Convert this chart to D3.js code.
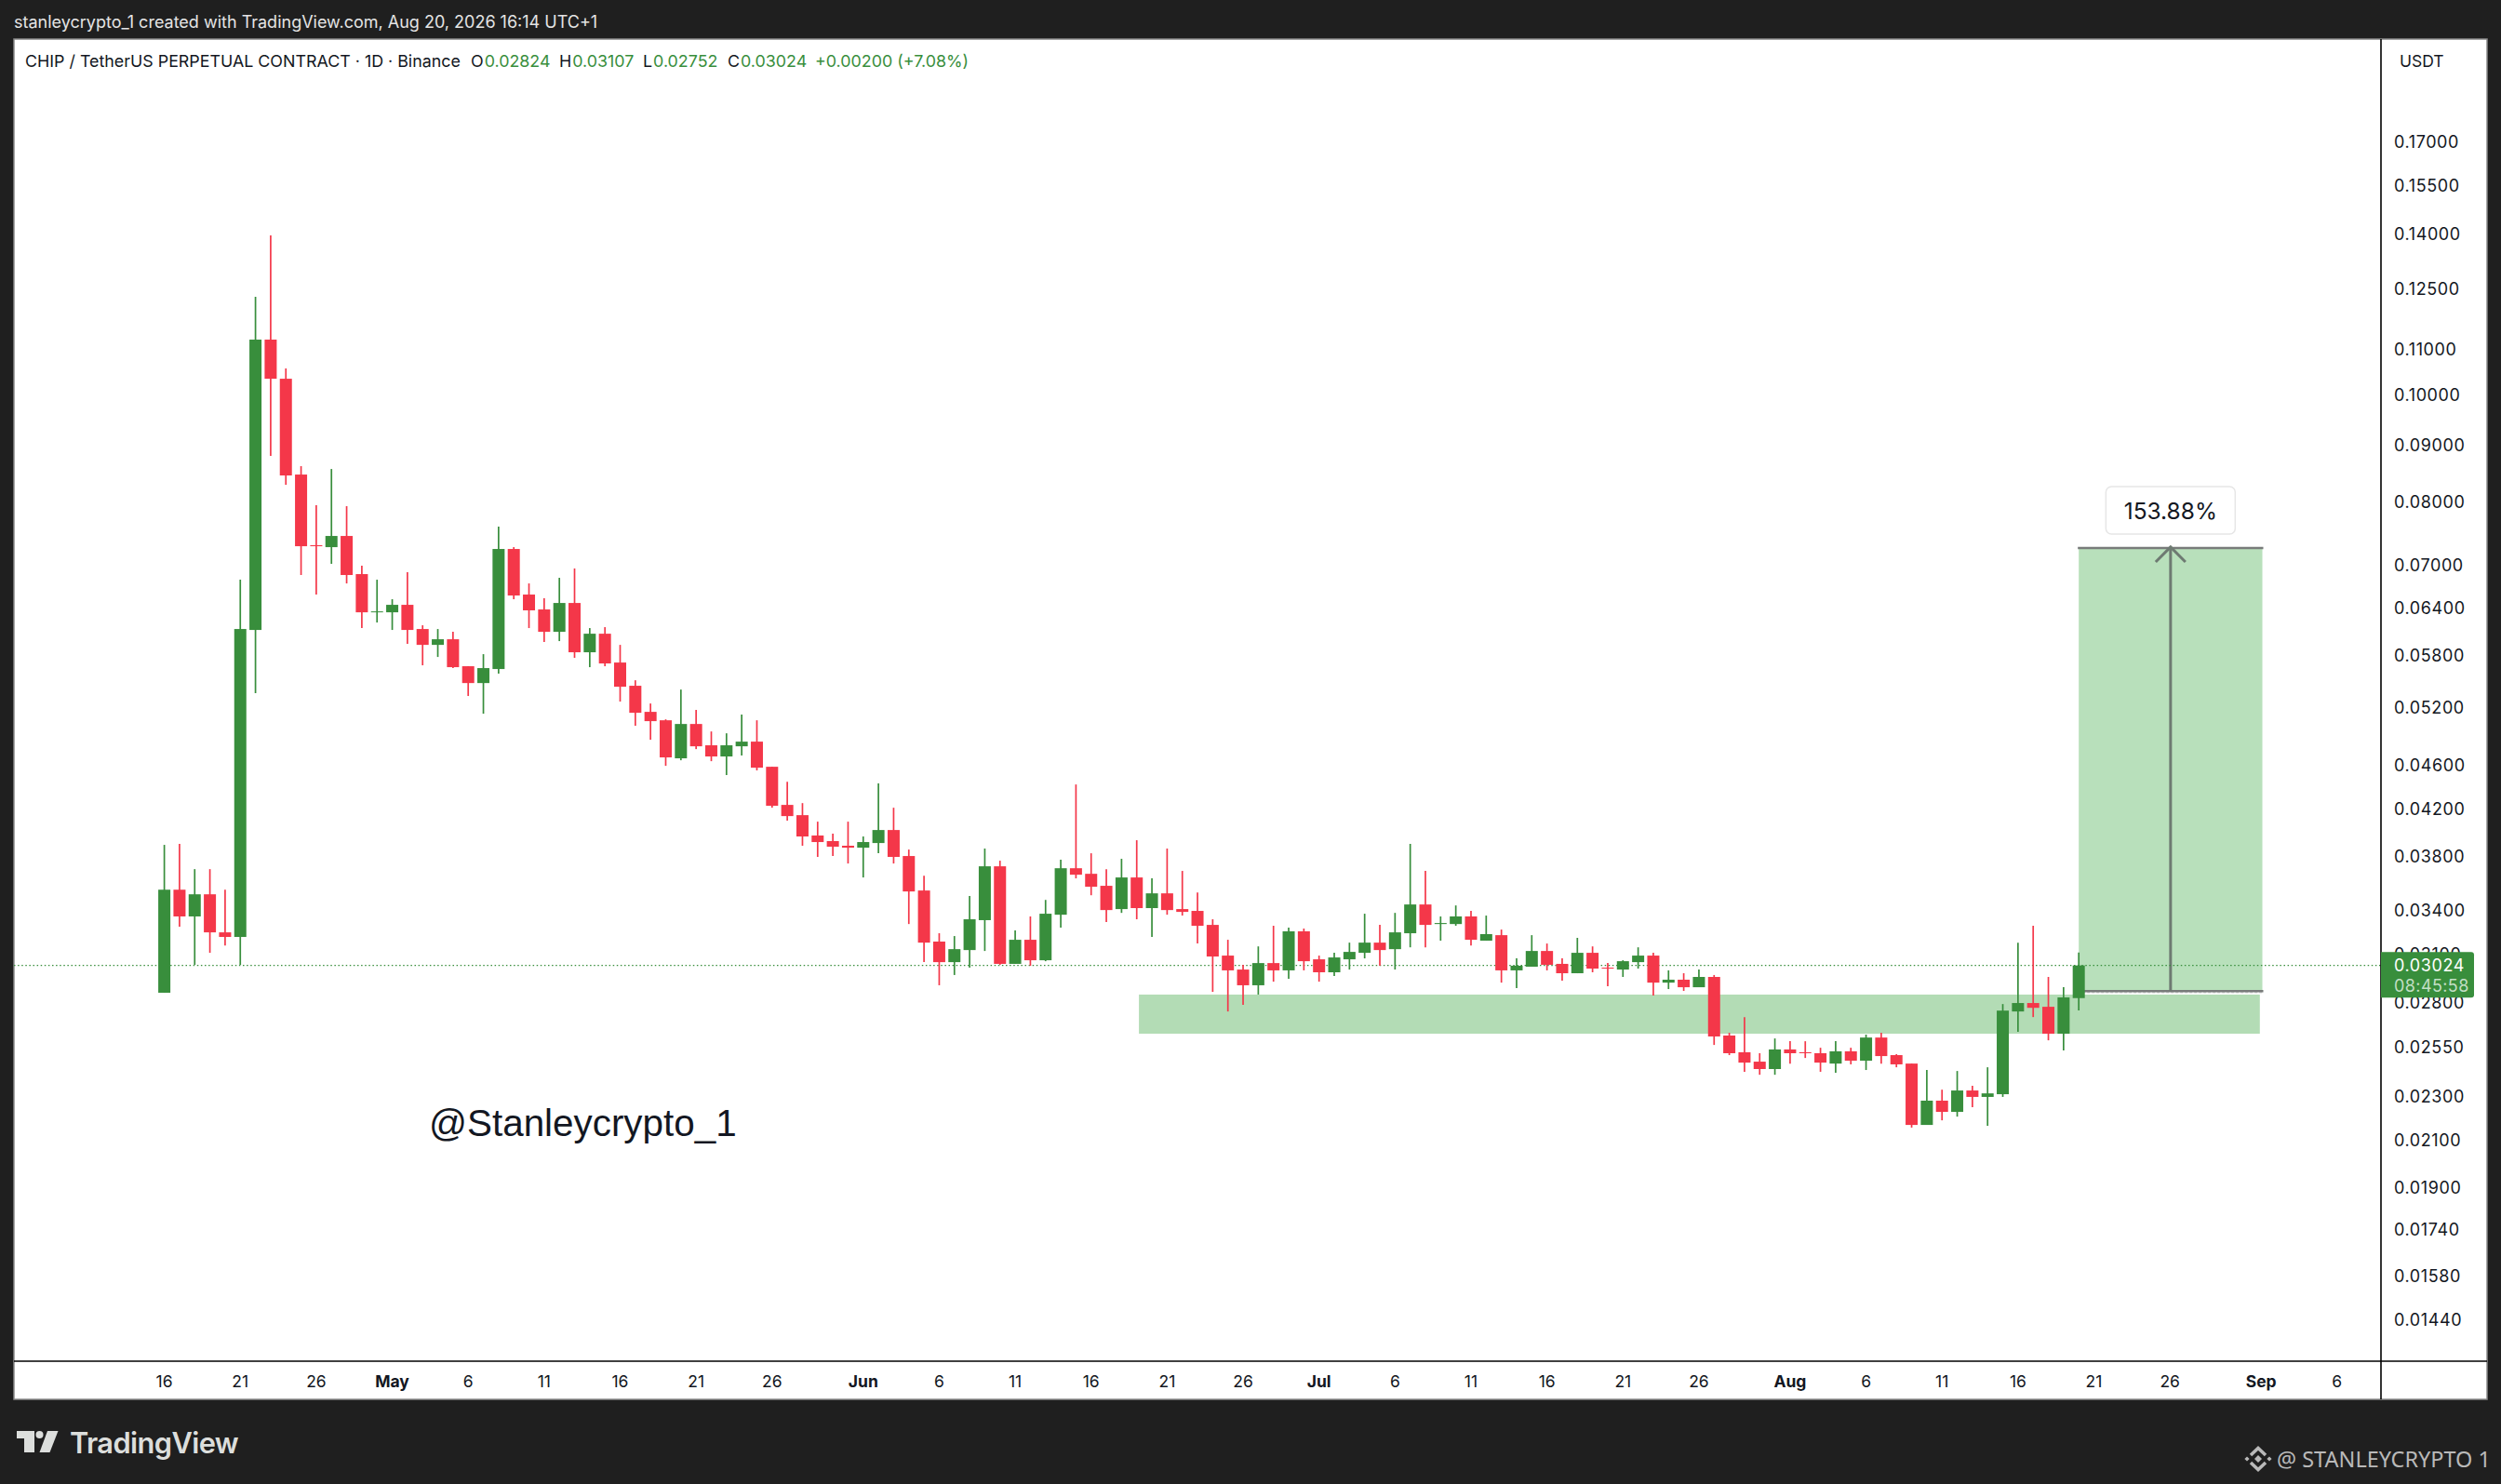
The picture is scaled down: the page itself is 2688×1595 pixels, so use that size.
<!DOCTYPE html>
<html>
<head>
<meta charset="utf-8">
<title>CHIP / TetherUS 1D</title>
<script src="https://d3js.org/d3.v7.min.js"></script>
<style>
  html, body { margin: 0; padding: 0; background: #1f1f1f; }
  svg { display: block; }
</style>
</head>
<body>
<script>
// daily candles, first one is 16 Apr 2026
var firstDay = "2026-04-16";

var opens = [
  .02856,.03544,.03351,.03510,.03241,.03210,.06107,.11220,.10337,.08457,
  .07293,.07264,.07436,.06865,.06337,.06337,.06437,.06119,.05919,.05989,
  .05660,.05464,.05627,.07236,.06577,.06375,.06083,.06462,.05828,.06059,
  .05704,.05433,.05144,.05054,.04667,.05015,.04796,.04685,.04786,.04833,
  .04585,.04233,.04143,.03970,.03924,.03886,.03870,.03908,.04016,.03803,
  .03538,.03179,.03045,.03123,.03325,.03722,.03034,.03191,.03057,.03363,
  .03707,.03664,.03573,.03403,.03636,.03410,.03517,.03403,.03390,.03292,
  .03087,.02998,.02901,.03039,.02993,.03248,.03063,.02981,.03063,.03105,
  .03172,.03129,.03235,.03436,.03298,.03298,.03351,.03185,.03222,.02993,
  .03016,.03117,.03034,.02975,.03105,.03010,.02998,.03045,.03087,.02917,
  .02935,.02889,.02952,.02611,.02521,.02472,.02434,.02536,.02521,.02516,
  .02462,.02526,.02477,.02600,.02506,.02462,.02165,.02278,.02225,.02327,
  .02296,.02309,.02746,.02795,.02773,.02621,.02824];

var highs = [
  .03893,.03901,.03700,.03700,.03544,.06785,.12272,.13957,.10562,.08607,
  .07930,.08556,.07915,.06986,.06785,.06513,.06892,.06167,.06119,.06083,
  .05660,.05805,.07582,.07264,.06732,.06526,.06812,.06946,.06131,.06143,
  .05919,.05496,.05235,.05064,.05390,.05165,.04937,.04918,.05114,.05054,
  .04585,.04444,.04249,.04087,.03985,.04087,.03962,.04427,.04208,.03855,
  .03650,.03235,.03216,.03497,.03863,.03766,.03254,.03351,.03469,.03773,
  .04418,.03825,.03700,.03781,.03931,.03629,.03863,.03686,.03524,.03331,
  .03191,.03028,.03147,.03286,.03273,.03267,.03087,.03105,.03172,.03370,
  .03292,.03376,.03901,.03686,.03351,.03429,.03390,.03357,.03260,.03069,
  .03222,.03166,.03069,.03204,.03147,.03039,.03057,.03141,.03105,.02993,
  .02975,.02998,.02964,.02626,.02714,.02516,.02595,.02580,.02580,.02545,
  .02580,.02545,.02616,.02626,.02511,.02462,.02429,.02331,.02424,.02350,
  .02443,.02789,.03172,.03286,.02952,.02889,.03107];

var lows = [
  .02856,.03280,.03028,.03105,.03153,.03028,.05349,.08793,.08277,.06852,
  .06577,.07014,.06732,.06131,.06203,.06107,.05931,.05671,.05771,.05638,
  .05318,.05124,.05572,.06513,.06131,.05954,.05966,.05760,.05649,.05660,
  .05256,.04996,.04852,.04594,.04648,.04758,.04639,.04506,.04694,.04550,
  .04208,.04095,.03886,.03796,.03803,.03744,.03636,.03825,.03744,.03298,
  .03045,.02901,.02964,.03010,.03117,.03028,.03034,.03022,.03051,.03273,
  .03629,.03503,.03312,.03376,.03331,.03210,.03363,.03357,.03166,.02861,
  .02746,.02784,.02845,.02923,.02940,.02993,.02923,.02958,.02998,.03069,
  .03022,.02998,.03141,.03141,.03185,.03286,.03153,.03185,.02917,.02884,
  .03016,.02993,.02929,.02975,.02981,.02895,.02952,.03004,.02839,.02878,
  .02867,.02889,.02560,.02506,.02420,.02405,.02405,.02462,.02491,.02420,
  .02415,.02458,.02429,.02462,.02443,.02153,.02165,.02186,.02203,.02247,
  .02161,.02296,.02631,.02714,.02585,.02531,.02752];

var closes = [
  .03544,.03351,.03510,.03241,.03210,.06119,.11220,.10337,.08441,.07278,
  .07278,.07436,.06852,.06337,.06349,.06437,.06107,.05919,.05989,.05649,
  .05464,.05638,.07236,.06564,.06363,.06083,.06462,.05828,.06059,.05693,
  .05422,.05134,.05045,.04676,.05015,.04786,.04685,.04796,.04833,.04576,
  .04225,.04135,.03962,.03916,.03878,.03870,.03916,.04016,.03796,.03531,
  .03172,.03045,.03129,.03331,.03722,.03034,.03191,.03057,.03370,.03707,
  .03657,.03566,.03396,.03636,.03410,.03517,.03396,.03383,.03286,.03081,
  .02993,.02901,.03039,.02993,.03248,.03051,.02981,.03075,.03111,.03172,
  .03123,.03241,.03436,.03292,.03305,.03351,.03191,.03229,.02993,.03022,
  .03117,.03028,.02975,.03105,.03004,.03004,.03051,.03087,.02917,.02935,
  .02889,.02952,.02606,.02516,.02467,.02434,.02536,.02516,.02516,.02467,
  .02526,.02477,.02600,.02501,.02458,.02165,.02278,.02225,.02327,.02296,
  .02313,.02751,.02795,.02767,.02621,.02828,.03024];

var priceTicks = ["0.17000","0.15500","0.14000","0.12500","0.11000","0.10000","0.09000","0.08000",
  "0.07000","0.06400","0.05800","0.05200","0.04600","0.04200","0.03800","0.03400","0.03100",
  "0.02800","0.02550","0.02300","0.02100","0.01900","0.01740","0.01580","0.01440"];

var dateTicks = ["2026-04-16","2026-04-21","2026-04-26","2026-05-01","2026-05-06","2026-05-11",
  "2026-05-16","2026-05-21","2026-05-26","2026-06-01","2026-06-06","2026-06-11","2026-06-16",
  "2026-06-21","2026-06-26","2026-07-01","2026-07-06","2026-07-11","2026-07-16","2026-07-21",
  "2026-07-26","2026-08-01","2026-08-06","2026-08-11","2026-08-16","2026-08-21","2026-08-26",
  "2026-09-01","2026-09-06"];

// the two drawings on the chart
var zoneDates = ["2026-06-19T03:30:00Z", "2026-08-31T22:00:00Z"];
var zonePrices = [0.02845, 0.02621];
var moveDates = ["2026-08-20T00:00:00Z", "2026-09-01T02:00:00Z"];
var movePrices = [0.02866, 0.07251];
var moveLabel = "153.88%";

var lastPrice = "0.03024", countdown = "08:45:58";
var headerText = "stanleycrypto_1 created with TradingView.com, Aug 20, 2026 16:14 UTC+1";
var titleText = "CHIP / TetherUS PERPETUAL CONTRACT · 1D · Binance";
var ohlcLetters = ["O", "H", "L", "C"];
var ohlcValues = ["0.02824", "0.03107", "0.02752", "0.03024"];
var changeText = "+0.00200 (+7.08%)";

var width = 2688, height = 1595;
var paneLeft = 15, paneRight = 2559, panelRight = 2673, paneTop = 42, paneBottom = 1463, panelBottom = 1504;
var green = "#388e3c", red = "#f43749", ink = "#131722";
var bodyWidth = 13;

var svg = d3.select("body").append("svg")
  .attr("width", width)
  .attr("height", height)
  .attr("font-family", "Inter, 'Noto Sans', sans-serif");

var x = d3.scaleUtc()
  .domain([new Date("2026-04-16"), new Date("2026-09-06")])
  .range([176.6, 2511.8]);

var y = d3.scaleLog()
  .domain([0.21059, 0.013198])
  .range([paneTop, paneBottom]);

var candles = opens.map(function(o, i) {
  return {
    date: d3.utcDay.offset(new Date(firstDay), i),
    open: o, high: highs[i], low: lows[i], close: closes[i]
  };
});

// panel
svg.append("rect")
  .attr("x", paneLeft).attr("y", paneTop)
  .attr("width", panelRight - paneLeft).attr("height", panelBottom - paneTop)
  .attr("fill", "#fff")
  .attr("stroke", "#8a8a8a").attr("stroke-width", 1.5);

// drawings, below the candles
svg.append("rect")
  .attr("x", x(new Date(moveDates[0]))).attr("y", y(movePrices[1]))
  .attr("width", x(new Date(moveDates[1])) - x(new Date(moveDates[0])))
  .attr("height", y(movePrices[0]) - y(movePrices[1]))
  .attr("fill", "#b8e0bb");

svg.append("rect")
  .attr("x", x(new Date(zoneDates[0]))).attr("y", y(zonePrices[0]))
  .attr("width", x(new Date(zoneDates[1])) - x(new Date(zoneDates[0])))
  .attr("height", y(zonePrices[1]) - y(zonePrices[0]))
  .attr("fill", "#b3dcb5");

var moveLeft = x(new Date(moveDates[0])) - 1, moveRight = x(new Date(moveDates[1])) + 1;
var moveMid = (moveLeft + moveRight) / 2;

movePrices.forEach(function(p) {
  svg.append("line")
    .attr("x1", moveLeft).attr("x2", moveRight)
    .attr("y1", y(p)).attr("y2", y(p))
    .attr("stroke", "#787b7a").attr("stroke-width", 2.6);
});
svg.append("line")
  .attr("x1", moveLeft).attr("x2", moveRight)
  .attr("y1", y(movePrices[0]) + 1.5).attr("y2", y(movePrices[0]) + 1.5)
  .attr("stroke", "#a4a6a5").attr("stroke-width", 1.2)
  .attr("stroke-dasharray", "3 2");

svg.append("line")
  .attr("x1", moveMid).attr("x2", moveMid)
  .attr("y1", y(movePrices[0])).attr("y2", y(movePrices[1]))
  .attr("stroke", "#6e7a72").attr("stroke-width", 3);
svg.append("path")
  .attr("d", d3.line()([[moveMid - 16, y(movePrices[1]) + 15], [moveMid, y(movePrices[1]) - 1], [moveMid + 16, y(movePrices[1]) + 15]]))
  .attr("fill", "none").attr("stroke", "#6e7a72").attr("stroke-width", 3);

svg.append("rect")
  .attr("x", moveMid - 69.5).attr("y", y(movePrices[1]) - 66)
  .attr("width", 139).attr("height", 51).attr("rx", 6)
  .attr("fill", "#fff")
  .attr("stroke", "#e6e6e6").attr("stroke-width", 1.5);
svg.append("text")
  .attr("x", moveMid).attr("y", y(movePrices[1]) - 40)
  .attr("text-anchor", "middle").attr("dominant-baseline", "central")
  .attr("font-size", 24.5).attr("fill", ink)
  .text(moveLabel);

// last price line
svg.append("line")
  .attr("x1", paneLeft).attr("x2", paneRight)
  .attr("y1", y(+lastPrice)).attr("y2", y(+lastPrice))
  .attr("stroke", green).attr("stroke-width", 1.4)
  .attr("stroke-dasharray", "1.5 2.6");

// candles
var candle = svg.append("g").selectAll("g")
  .data(candles)
  .enter().append("g")
  .attr("fill", function(d) { return d.close >= d.open ? green : red; })
  .attr("stroke", function(d) { return d.close >= d.open ? green : red; });

candle.append("line")
  .attr("x1", function(d) { return x(d.date); })
  .attr("x2", function(d) { return x(d.date); })
  .attr("y1", function(d) { return y(d.high); })
  .attr("y2", function(d) { return y(d.low); })
  .attr("stroke-width", 1.7);

candle.append("rect")
  .attr("x", function(d) { return x(d.date) - bodyWidth / 2; })
  .attr("y", function(d) { return y(Math.max(d.open, d.close)); })
  .attr("width", bodyWidth)
  .attr("height", function(d) { return Math.max(1, Math.abs(y(d.open) - y(d.close))); })
  .attr("stroke", "none");

// axes frame
svg.append("line").attr("x1", paneLeft).attr("x2", panelRight).attr("y1", paneBottom).attr("y2", paneBottom)
  .attr("stroke", "#000").attr("stroke-width", 1.6);
svg.append("line").attr("x1", paneRight).attr("x2", paneRight).attr("y1", paneTop).attr("y2", panelBottom)
  .attr("stroke", "#000").attr("stroke-width", 1.6);

// price axis
svg.append("g").selectAll("text")
  .data(priceTicks)
  .enter().append("text")
  .attr("x", 2573)
  .attr("y", function(d) { return y(+d) + 0.5; })
  .attr("dominant-baseline", "central")
  .attr("font-size", 18).attr("letter-spacing", 0.6).attr("fill", ink)
  .text(function(d) { return d; });

svg.append("text")
  .attr("x", 2579).attr("y", 65)
  .attr("dominant-baseline", "central")
  .attr("font-size", 17.5).attr("fill", ink)
  .text("USDT");

// time axis
var fmtDay = d3.utcFormat("%-d"), fmtMonth = d3.utcFormat("%b");
svg.append("g").selectAll("text")
  .data(dateTicks)
  .enter().append("text")
  .attr("x", function(d) { return x(new Date(d)); })
  .attr("y", 1484.5)
  .attr("text-anchor", "middle").attr("dominant-baseline", "central")
  .attr("font-size", 17.5).attr("fill", ink)
  .attr("font-weight", function(d) { return new Date(d).getUTCDate() == 1 ? 700 : 400; })
  .text(function(d) {
    var dt = new Date(d);
    return dt.getUTCDate() == 1 ? fmtMonth(dt) : fmtDay(dt);
  });

// last price badge
var badgeY = y(+lastPrice);
svg.append("path")
  .attr("d", "M" + paneRight + "," + (badgeY - 14.5) + "h97q3,0 3,3v43q0,3 -3,3h-97z")
  .attr("fill", green);
svg.append("text")
  .attr("x", 2573).attr("y", badgeY)
  .attr("dominant-baseline", "central")
  .attr("font-size", 18).attr("letter-spacing", 0.6).attr("fill", "#fff")
  .text(lastPrice);
svg.append("text")
  .attr("x", 2573).attr("y", badgeY + 21.5)
  .attr("dominant-baseline", "central")
  .attr("font-size", 18).attr("letter-spacing", 0.4).attr("fill", "#c3dfc5")
  .text(countdown);

// header and legend
svg.append("text")
  .attr("x", 15).attr("y", 23.5)
  .attr("dominant-baseline", "central")
  .attr("font-size", 18).attr("fill", "#e4e4e4")
  .text(headerText);

svg.append("text")
  .attr("x", 27).attr("y", 65)
  .attr("dominant-baseline", "central")
  .attr("font-size", 17.85).attr("fill", ink)
  .text(titleText);

var legendX = [506, 601, 691, 782];
ohlcLetters.forEach(function(letter, i) {
  var t = svg.append("text")
    .attr("x", legendX[i]).attr("y", 65)
    .attr("dominant-baseline", "central")
    .attr("font-size", 17.85).attr("fill", ink)
    .text(letter);
  t.append("tspan").attr("fill", green).attr("dx", 1).text(ohlcValues[i]);
});
svg.append("text")
  .attr("x", 876).attr("y", 65)
  .attr("dominant-baseline", "central")
  .attr("font-size", 17.85).attr("fill", green)
  .text(changeText);

// watermark on the chart
svg.append("text")
  .attr("x", 461).attr("y", 1207)
  .attr("dominant-baseline", "central")
  .attr("font-family", "Liberation Sans").attr("font-size", 40.4).attr("fill", ink)
  .text("@Stanleycrypto_1");

// TradingView logo
var logo = svg.append("g").attr("fill", "#dcdedc");
logo.append("path").attr("d", "M18,1538H37V1561H26V1546H18Z");
logo.append("circle").attr("cx", 42.5).attr("cy", 1542).attr("r", 4);
logo.append("path").attr("d", "M51,1538H62.5L53.5,1561H42.5Z");
logo.append("text")
  .attr("x", 75).attr("y", 1550)
  .attr("dominant-baseline", "central")
  .attr("font-size", 30.8).attr("font-weight", 600).attr("letter-spacing", -0.6)
  .text("TradingView");

// author mark bottom right
var mark = svg.append("g").attr("fill", "#b9b9b9");
var mx = 2427, my = 1568;
[[mx, my, 4], [mx - 12, my, 2.6], [mx + 12, my, 2.6]].forEach(function(p) {
  mark.append("path").attr("d", "M" + p[0] + "," + (p[1] - p[2]) + "l" + p[2] + "," + p[2] + "l" + (-p[2]) + "," + p[2] + "l" + (-p[2]) + "," + (-p[2]) + "z");
});
[-1, 1].forEach(function(s) {
  mark.append("path")
    .attr("d", d3.line()([[mx - 8, my + s * 4], [mx, my + s * 11.5], [mx + 8, my + s * 4]]))
    .attr("fill", "none").attr("stroke", "#b9b9b9").attr("stroke-width", 3.6);
});
mark.append("text")
  .attr("x", 2447).attr("y", 1568)
  .attr("dominant-baseline", "central")
  .attr("font-family", "Noto Sans").attr("font-size", 23.5)
  .attr("textLength", 230).attr("lengthAdjust", "spacingAndGlyphs")
  .text("@ STANLEYCRYPTO 1");
</script>
</body>
</html>
